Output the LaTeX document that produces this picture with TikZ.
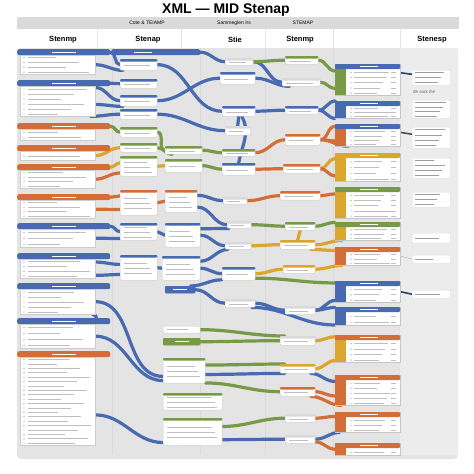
\documentclass[tikz,border=0pt]{standalone}
\usepackage{fontspec}
\setmainfont{Liberation Sans}
\usetikzlibrary{calc}

\definecolor{cblue}{RGB}{72,106,176}
\definecolor{corange}{RGB}{212,110,56}
\definecolor{cgreen}{RGB}{118,154,70}
\definecolor{cyellow}{RGB}{218,166,46}
\definecolor{cpanel}{RGB}{228,228,228}
\definecolor{cright}{RGB}{236,236,236}
\definecolor{cbar}{RGB}{218,218,218}

\pgfdeclarelayer{back}
\pgfdeclarelayer{wires}
\pgfsetlayers{back,wires,main}

\tikzset{
	lhead/.style={rectangle, anchor=north west, inner sep=0pt, minimum width=93pt, minimum height=6pt, rounded corners=2pt},
	lbody/.style={rectangle, anchor=north west, inner sep=0pt, minimum width=75pt, fill=white, draw=gray!40, line width=0.4pt},
	tbox/.style={rectangle, anchor=north west, inner sep=0pt, fill=white, draw=gray!45, line width=0.4pt, rounded corners=1pt},
	rbody/.style={rectangle, anchor=north west, inner sep=0pt, minimum width=65pt, fill=white, draw=gray!45, line width=0.4pt},
	notebody/.style={rectangle, anchor=north west, inner sep=0pt, minimum width=38pt, fill=white, draw=gray!25, line width=0.4pt, rounded corners=1pt},
	itemline/.style={gray!50, line width=0.8pt},
	wire/.style={line width=3.2pt, line cap=round, draw=#1, out=0, in=180},
	noteline/.style={cblue!60!black, line width=1.6pt},
	coltitle/.style={font=\bfseries\fontsize{7.5}{8}\selectfont, inner sep=0pt},
	bartext/.style={font=\fontsize{5}{6}\selectfont, inner sep=0pt},
}

% left list panel: name, colour, top, body height, items
\newcommand{\lpanel}[5]{%
	\node [lhead, fill=#2] at (17, #3) (#1) {};
	\draw [white, line width=0.9pt] ($(#1.center)+(-12,0)$) -- ($(#1.center)+(12,0)$);
	\node [lbody, minimum height=#4pt] at (20, #3+6) (#1b) {};
	\foreach \k in {1,...,#5} {
		\pgfmathsetmacro{\yy}{#3+6+(\k-0.4)*#4/#5}
		\pgfmathsetmacro{\ww}{28+mod(\k*23+#3,36)}
		\fill [gray!70] (24, \yy) circle (0.7);
		\draw [itemline] (28, \yy) -- ++(\ww, 0);
	}
}
% small box with a coloured tab: name, colour, x, y, w, h
\newcommand{\tabbox}[6]{%
	\node [tbox, minimum width=#5pt, minimum height=#6pt] at (#3, #4) (#1) {};
	\fill [#2, rounded corners=1pt] (#1.north west) rectangle ($(#1.north east)+(0,2.5)$);
	\draw [itemline] ($(#1.west)+(4,1)$) -- ($(#1.east)+(-7,1)$);
	\ifdim #6pt>14pt
		\draw [itemline] ($(#1.west)+(4,-4)$) -- ($(#1.east)+(-10,-4)$);
		\draw [itemline] ($(#1.west)+(4,6)$) -- ($(#1.east)+(-5,6)$);
	\fi
}
% filled pill: name, colour, x, y, w
\newcommand{\pillbox}[5]{%
	\node [tbox, fill=#2, draw=#2, minimum width=#5pt, minimum height=7pt] at (#3, #4) (#1) {};
	\draw [white, line width=0.8pt] ($(#1.center)+(-7,0)$) -- ($(#1.center)+(7,0)$);
}
% right panel: name, side colour, head colour, top, height, items
\newcommand{\rpanel}[6]{%
	\node [rbody, minimum height=#5pt] at (335, #4) (#1) {};
	\fill [#2] (335, #4) rectangle (346, #4+#5);
	\fill [#3, rounded corners=1pt] (335, #4) rectangle (400, #4+5);
	\draw [white, line width=0.8pt] (360, #4+2.5) -- (378, #4+2.5);
	\foreach \k in {1,...,#6} {
		\pgfmathsetmacro{\yy}{#4+5+(\k-0.35)*(#5-5)/#6}
		\pgfmathsetmacro{\ww}{22+mod(\k*13+#4,16)}
		\fill [gray!70] (351, \yy) circle (0.7);
		\draw [itemline] (354, \yy) -- ++(\ww, 0);
		\draw [itemline] (391, \yy) -- ++(5, 0);
	}
}
% note box: name, top, height, lines
\newcommand{\notebox}[4]{%
	\node [notebody, minimum height=#3pt] at (412, #2) (#1) {};
	\foreach \k in {1,...,#4} {
		\pgfmathsetmacro{\yy}{#2+(\k-0.45)*#3/#4}
		\pgfmathsetmacro{\ww}{18+mod(\k*11+#2,14)}
		\draw [gray!75, line width=0.8pt] (415, \yy) -- ++(\ww, 0);
	}
}

\begin{document}
\begin{tikzpicture}[x=1pt, y=-1pt]
	\useasboundingbox (0,0) rectangle (474,474);

	\begin{pgfonlayer}{back}
		\fill [white] (0,0) rectangle (474,474);
		\fill [cbar] (17,17) rectangle (459,29);
		\fill [cpanel, rounded corners=4pt] (17,48) rectangle (458,459);
		\fill [cright] (400,48) rectangle (458,455);
		\foreach \x in {97,181,265,333,400}
			\draw [gray!20] (\x,29) -- (\x,48);
		\foreach \x in {112,200,265,333}
			\draw [gray!30] (\x,48) -- (\x,455);
	\end{pgfonlayer}

	% titles
	\node [font=\bfseries\fontsize{14}{14}\selectfont, inner sep=0pt] at (226, 10) (title) {XML — MID Stenap};
	\node [bartext] at (147, 23) (hb1) {Cote \& TEIAMP};
	\node [bartext] at (234, 23) (hb2) {Sammeglen Irs};
	\node [bartext] at (303, 23) (hb3) {STEMAP};
	\node [coltitle] at (63, 40) (t1) {Stenmp};
	\node [coltitle] at (148, 40) (t2) {Stenap};
	\node [coltitle] at (235, 40) (t3) {Stie};
	\node [coltitle] at (300, 40) (t4) {Stenmp};
	\node [coltitle] at (432, 40) (t5) {Stenesp};

	% left lists
	\lpanel{p1}{cblue}{49}{19}{4}
	\lpanel{p2}{cblue}{80}{30}{6}
	\lpanel{p3}{corange}{123}{11}{2}
	\lpanel{p4}{corange}{145}{9}{1}
	\lpanel{p5}{corange}{164}{18}{4}
	\lpanel{p6}{corange}{194}{18}{4}
	\lpanel{p7}{cblue}{223}{18}{3}
	\lpanel{p8}{cblue}{253}{19}{4}
	\lpanel{p9}{cblue}{283}{25}{5}
	\lpanel{p10}{cblue}{318}{24}{4}
	\lpanel{p11}{corange}{351}{88}{20}

	\node [lhead, minimum width=89pt, fill=cblue] at (111, 49) (c0) {};
	\draw [white, line width=0.9pt] ($(c0.center)+(-22,0)$) -- ($(c0.center)+(-4,0)$);

	% second column
	\tabbox{b1}{cblue}{120}{59}{37}{11}
	\tabbox{b2}{cblue}{120}{79}{37}{9}
	\tabbox{b3}{cblue}{120}{95}{37}{11}
	\tabbox{b4}{cblue}{120}{109}{37}{10}
	\tabbox{b5}{cgreen}{120}{127}{37}{10}
	\tabbox{b6}{cgreen}{120}{143}{37}{9}
	\tabbox{b7}{cgreen}{120}{156}{37}{20}
	\tabbox{b8}{corange}{120}{190}{37}{25}
	\tabbox{b9}{cblue}{120}{223}{37}{17}
	\tabbox{b10}{cblue}{120}{255}{37}{25}

	\tabbox{c5}{cgreen}{165}{146}{37}{8}
	\tabbox{c6}{cgreen}{165}{159}{37}{13}
	\tabbox{c1}{corange}{165}{190}{32}{22}
	\tabbox{c2}{cblue}{165}{223}{35}{24}
	\tabbox{c3}{cblue}{162}{256}{38}{24}
	\pillbox{c4}{cblue}{165}{286}{30}
	\node [tbox, minimum width=37pt, minimum height=7pt] at (163, 326) (c7) {};
	\draw [itemline] ($(c7.west)+(4,0)$) -- ($(c7.east)+(-12,0)$);
	\pillbox{c8}{cgreen}{163}{338}{37}
	\tabbox{c9}{cgreen}{163}{358}{42}{25}
	\tabbox{c10}{cgreen}{163}{393}{59}{17}
	\tabbox{c11}{cgreen}{163}{418}{59}{27}

	% middle column
	\tabbox{d1}{gray!30}{225}{58}{28}{7}
	\tabbox{d2}{cblue}{220}{72}{35}{12}
	\tabbox{d3}{cblue}{222}{106}{33}{10}
	\tabbox{d4}{gray!30}{225}{126}{25}{9}
	\tabbox{d5}{cgreen}{222}{149}{33}{7}
	\tabbox{d6}{cblue}{222}{163}{33}{12}
	\tabbox{d7}{gray!30}{223}{197}{24}{7}
	\tabbox{d8}{gray!30}{227}{221}{24}{7}
	\tabbox{d9}{gray!30}{225}{242}{26}{7}
	\tabbox{d10}{cblue}{222}{267}{33}{13}
	\tabbox{d11}{gray!30}{225}{299}{30}{8}

	\tabbox{e1}{cgreen}{285}{56}{33}{8}
	\tabbox{e2}{gray!30}{282}{78}{38}{8}
	\tabbox{e3}{cblue}{285}{106}{33}{8}
	\tabbox{e4}{corange}{285}{134}{35}{11}
	\tabbox{e5}{corange}{283}{164}{37}{9}
	\tabbox{e6}{corange}{280}{191}{40}{9}
	\tabbox{e7}{cgreen}{285}{222}{30}{8}
	\tabbox{e8}{cyellow}{280}{240}{35}{9}
	\tabbox{e9}{cyellow}{283}{265}{32}{8}
	\tabbox{e10}{gray!30}{285}{306}{30}{8}
	\tabbox{e11}{gray!30}{280}{336}{35}{9}
	\tabbox{e12}{cyellow}{280}{364}{35}{9}
	\tabbox{e13}{corange}{280}{387}{35}{9}
	\tabbox{e14}{gray!30}{285}{414}{30}{8}
	\tabbox{e15}{gray!30}{285}{435}{30}{8}

	% right panels
	\rpanel{f1}{cgreen}{cblue}{64}{31}{5}
	\rpanel{f2}{cblue}{cblue}{101}{17}{3}
	\rpanel{f3}{corange}{cblue}{124}{22}{4}
	\rpanel{f4}{cyellow}{cyellow}{153}{28}{4}
	\rpanel{f5}{cyellow}{cgreen}{187}{31}{5}
	\rpanel{f6}{cyellow}{cgreen}{222}{18}{3}
	\rpanel{f7}{corange}{corange}{247}{18}{3}
	\rpanel{f8}{cblue}{cblue}{281}{21}{3}
	\rpanel{f9}{cblue}{cblue}{307}{18}{2}
	\rpanel{f10}{cyellow}{corange}{335}{27}{4}
	\rpanel{f11}{corange}{corange}{375}{30}{5}
	\rpanel{f12}{corange}{corange}{412}{20}{3}
	\rpanel{f13}{corange}{corange}{443}{12}{1}

	% notes
	\notebox{g1}{70}{15}{3}
	\node [font=\fontsize{4.5}{5}\selectfont, text=gray!80!black, inner sep=0pt, anchor=west] at (413, 92) (g2) {de sork ihe};
	\notebox{g3}{100}{18}{4}
	\notebox{g4}{127}{21}{4}
	\notebox{g5}{158}{20}{4}
	\notebox{g6}{192}{15}{3}
	\notebox{g7}{233}{10}{1}
	\notebox{g8}{255}{8}{1}
	\notebox{g9}{290}{8}{1}

	\begin{pgfonlayer}{wires}
		% blue
		\draw [wire=cblue] (p1.east) to (b1.west);
		\draw [wire=cblue] (p1b.east) to (b1.200);
		\draw [wire=cblue] (p2.east) to (b2.west);
		\draw [wire=cblue] (p2b.20) to (b3.west);
		\draw [wire=cblue] (p2b.-5) to (b3.200);
		\draw [wire=cblue] (p2b.-25) to (b4.west);
		\draw [wire=cblue] (c0.east) to (d1.west);
		\draw [wire=cblue] (d1.east) to (e2.west);
		\draw [wire=cblue] (d2.east) to (e2.200);
		\draw [wire=cblue] (b3.east) to (d2.west);
		\draw [wire=cblue] (b1.east) to (d3.west);
		\draw [wire=cblue] (b4.east) to (d4.west);
		\draw [wire=cblue] (d3.east) to (e3.west);
		\draw [wire=cblue] (e3.east) to (f2.165);
		\draw [wire=cblue] (e3.east) to (f2.195);
		\draw [wire=cblue] (d4.north) to [out=90, in=-90] (d3.south);
		\draw [wire=cblue] (d6.north) to [out=80, in=-60] (d3.-60);
		% green, yellow, orange above
		\draw [wire=cgreen] (d1.east) to (e1.west);
		\draw [wire=cgreen] (e1.east) to (f1.165);
		\draw [wire=cgreen] (e2.east) to (f1.195);
		\draw [wire=cgreen] (p3.east) to (b5.west);
		\draw [wire=cyellow] (p4b.east) to (b6.west);
		\draw [wire=cyellow] (p5.east) to (b7.170);
		\draw [wire=corange] (p5b.east) to (b7.200);
		\draw [wire=corange] (p6.east) to (b8.160);
		\draw [wire=corange] (p6b.east) to (b8.200);
		\draw [wire=cgreen] (b5.east) to (c5.west);
		\draw [wire=cgreen] (b6.east) to (c5.200);
		\draw [wire=cyellow] (b7.east) to (c6.west);
		\draw [wire=cgreen] (c5.east) to (d5.west);
		\draw [wire=cgreen] (c6.east) to (d6.west);
		\draw [wire=corange] (d5.east) to (e4.west);
		\draw [wire=corange] (d6.east) to (e5.west);
		\draw [wire=corange] (e4.east) to (f3.165);
		\draw [wire=corange] (e4.east) to (f3.190);
		\draw [wire=corange] (e4.east) to (f3.210);
		\draw [wire=cyellow] (e5.east) to (f4.165);
		\draw [wire=corange] (e5.east) to (f4.195);
		% middle
		\draw [wire=corange] (b8.east) to (c1.west);
		\draw [wire=cblue] (c1.20) to (d7.west);
		\draw [wire=corange] (d7.east) to (e6.west);
		\draw [wire=corange] (e6.east) to (f5.165);
		\draw [wire=cblue] (c1.-20) to (d8.west);
		\draw [wire=cblue] (p7.east) to (b9.west);
		\draw [wire=cblue] (p7b.east) to (b9.200);
		\draw [wire=cblue] (b9.east) to (c2.west);
		\draw [wire=cblue] (c2.east) to (d9.west);
		\draw [wire=cblue] (c2.20) to (d8.200);
		\draw [wire=cgreen] (d8.east) to (e7.west);
		\draw [wire=cyellow] (d9.east) to (e8.west);
		\draw [wire=cyellow] (e7.south) to [out=-90, in=90] (e8.north);
		\draw [wire=cgreen] (e7.east) to (f6.165);
		\draw [wire=cyellow] (e8.east) to (f6.200);
		\draw [wire=cyellow] (e8.-20) to (f7.170);
		\draw [wire=cyellow] (e9.east) to (f7.200);
		\draw [wire=cblue] (p8b.10) to (b10.170);
		\draw [wire=cblue] (p8b.-10) to (b10.200);
		\draw [wire=cblue] (b10.east) to (c3.west);
		\draw [wire=cblue] (c3.east) to (d10.west);
		\draw [wire=cblue] (c3.20) to (d9.200);
		\draw [wire=cyellow] (d10.east) to (e9.west);
		\draw [wire=cgreen] (d10.-15) to (f8.165);
		\draw [wire=cblue] (c4.east) to (d11.west);
		\draw [wire=cblue] (c4.20) to (d10.200);
		\draw [wire=cblue] (d11.east) to (e10.west);
		\draw [wire=cblue] (e10.east) to (f8.195);
		\draw [wire=cblue] (e10.east) to (f9.165);
		\draw [wire=cblue] (d11.-20) to (f9.195);
		% lower
		\draw [wire=cblue] (p9b.-20) to [out=0, in=0, looseness=1.6] (p10b.20);
		\draw [wire=cblue] (p9b.east) to (c9.195);
		\draw [wire=cblue] (p10b.east) to (c9.205);
		\draw [wire=cblue] (p11b.-20) to (c11.200);
		\draw [wire=cgreen] (c7.east) to (e11.160);
		\draw [wire=cgreen] (c8.east) to (e11.west);
		\draw [wire=cgreen] (c9.15) to (e12.160);
		\draw [wire=cblue] (c9.-10) to (e12.200);
		\draw [wire=cgreen] (c9.-30) to (e13.west);
		\draw [wire=cgreen] (c11.10) to (e14.west);
		\draw [wire=cblue] (c11.-15) to (e15.west);
		\draw [wire=cyellow] (e11.east) to (f10.160);
		\draw [wire=cyellow] (e12.east) to (f10.200);
		\draw [wire=cblue] (e12.-20) to (f11.165);
		\draw [wire=corange] (e13.east) to (f11.190);
		\draw [wire=corange] (e13.-20) to (f11.210);
		\draw [wire=corange] (e14.east) to (f12.170);
		\draw [wire=cblue] (e15.east) to (f12.200);
		\draw [wire=corange] (e15.-10) to (f13.west);
		% to the notes
		\draw [noteline] (f1.12) -- (g1.170);
		\draw [noteline, gray!60!black] (f3.5) -- (g4.170);
		\draw [gray!60, line width=0.4pt] (f7.0) -- (g8.west);
		\draw [noteline] (f8.0) -- (g9.west);
	\end{pgfonlayer}
\end{tikzpicture}
\end{document}
